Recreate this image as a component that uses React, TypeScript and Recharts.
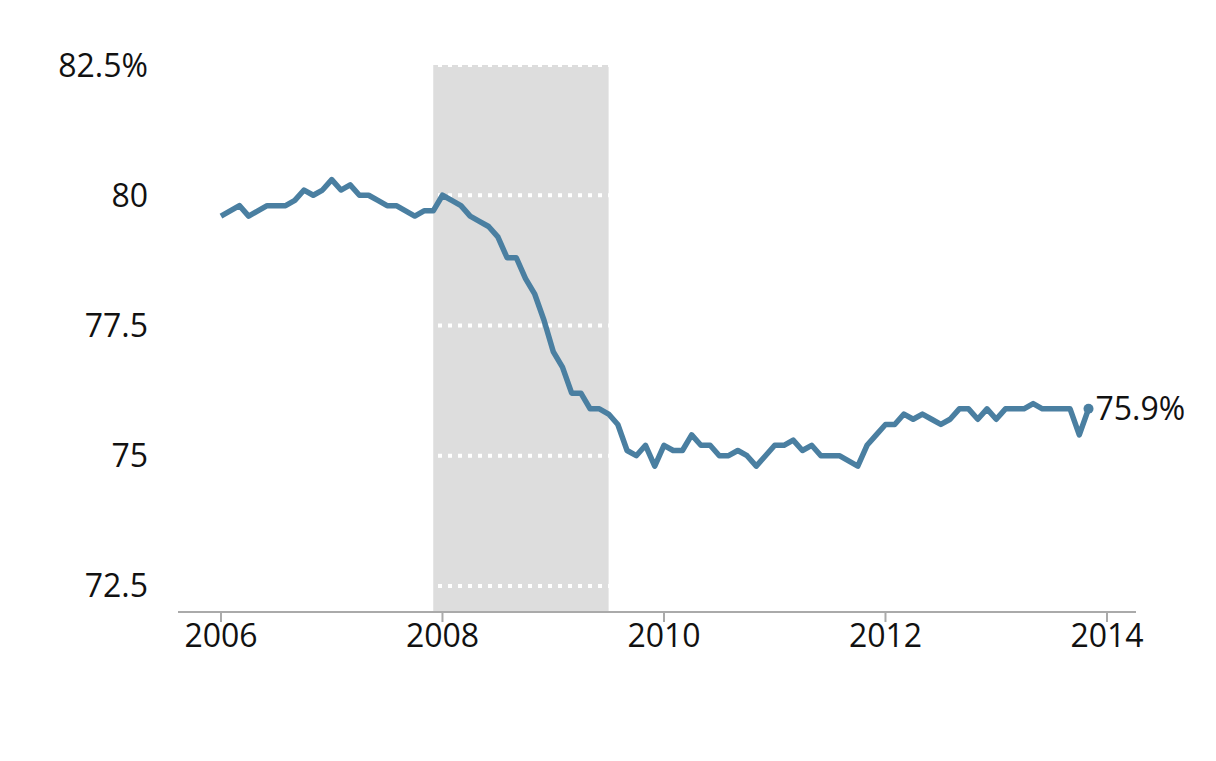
// Taux d'emploi mensuel, 2006-2013, avec la récession grisée
import {
  LineChart, Line, XAxis, YAxis, ReferenceArea, ReferenceLine,
} from 'recharts';

const START_YEAR = 2006;

// valeurs mensuelles, janv. 2006 -> nov. 2013
const values2006 = [79.6, 79.7, 79.8, 79.6, 79.7, 79.8, 79.8, 79.8, 79.9, 80.1, 80.0, 80.1];
const values2007 = [80.3, 80.1, 80.2, 80.0, 80.0, 79.9, 79.8, 79.8, 79.7, 79.6, 79.7, 79.7];
const values2008 = [80.0, 79.9, 79.8, 79.6, 79.5, 79.4, 79.2, 78.8, 78.8, 78.4, 78.1, 77.6];
const values2009 = [77.0, 76.7, 76.2, 76.2, 75.9, 75.9, 75.8, 75.6, 75.1, 75.0, 75.2, 74.8];
const values2010 = [75.2, 75.1, 75.1, 75.4, 75.2, 75.2, 75.0, 75.0, 75.1, 75.0, 74.8, 75.0];
const values2011 = [75.2, 75.2, 75.3, 75.1, 75.2, 75.0, 75.0, 75.0, 74.9, 74.8, 75.2, 75.4];
const values2012 = [75.6, 75.6, 75.8, 75.7, 75.8, 75.7, 75.6, 75.7, 75.9, 75.9, 75.7, 75.9];
const values2013 = [75.7, 75.9, 75.9, 75.9, 76.0, 75.9, 75.9, 75.9, 75.9, 75.4, 75.9];

const xTicks = [2006, 2008, 2010, 2012, 2014];
const yTicks = [72.5, 75, 77.5, 80, 82.5];

// récession : déc. 2007 -> juin 2009
const recessionStart = 2007 + 11 / 12;
const recessionEnd = 2009.5;

const BLUE = '#4a7fa1';
const FONT = '"Open Sans", Lato, sans-serif';
const FONT_SIZE = 32;

const allValues = [
  ...values2006, ...values2007, ...values2008, ...values2009,
  ...values2010, ...values2011, ...values2012, ...values2013,
];
const data = allValues.map((v, i) => ({ x: START_YEAR + i / 12, value: v }));

function YTick(props: any) {
  const { x, y, payload } = props;
  const label = payload.value === 82.5 ? '82.5%' : String(payload.value);
  return (
    <text x={x} y={y} dy="0.36em" textAnchor="end" fontSize={FONT_SIZE} fontFamily={FONT} fill="#111">
      {label}
    </text>
  );
}

function LastDot(props: any) {
  const { cx, cy, index, payload } = props;
  if (index !== data.length - 1) return null;
  return (
    <g>
      <circle cx={cx} cy={cy} r={5} fill={BLUE} />
      <text x={cx + 7} y={cy} dy="0.36em" fontSize={FONT_SIZE} fontFamily={FONT} fill="#111">
        {payload.value.toFixed(1)}%
      </text>
    </g>
  );
}

export default function App() {
  return (
    <div style={{ width: 1200, height: 740 }}>
      <LineChart
        width={1200}
        height={740}
        data={data}
        margin={{ top: 57, right: 72, left: 0, bottom: 76 }}
      >
        <XAxis
          type="number"
          dataKey="x"
          domain={[2005.612, 2014.262]}
          ticks={xTicks}
          height={60}
          tickSize={10}
          tickMargin={2}
          stroke="#aaaaaa"
          strokeWidth={2}
          tick={{ fontSize: FONT_SIZE, fontFamily: FONT, fill: '#111' }}
          tickFormatter={(v: number) => String(Math.round(v))}
        />
        <YAxis
          type="number"
          domain={[72, 82.5]}
          ticks={yTicks}
          width={170}
          axisLine={false}
          tickLine={false}
          tickSize={0}
          tickMargin={30}
          tick={<YTick />}
        />
        <ReferenceArea
          x1={recessionStart}
          x2={recessionEnd}
          y1={72}
          y2={82.5}
          fill="#dddddd"
          fillOpacity={1}
          stroke="none"
        />
        {yTicks.map((t) => (
          <ReferenceLine key={t} y={t} stroke="#ffffff" strokeWidth={4} strokeDasharray="4 6" />
        ))}
        <Line
          type="linear"
          dataKey="value"
          stroke={BLUE}
          strokeWidth={5.5}
          strokeLinejoin="round"
          dot={<LastDot />}
          activeDot={false}
          isAnimationActive={false}
        />
      </LineChart>
    </div>
  );
}
